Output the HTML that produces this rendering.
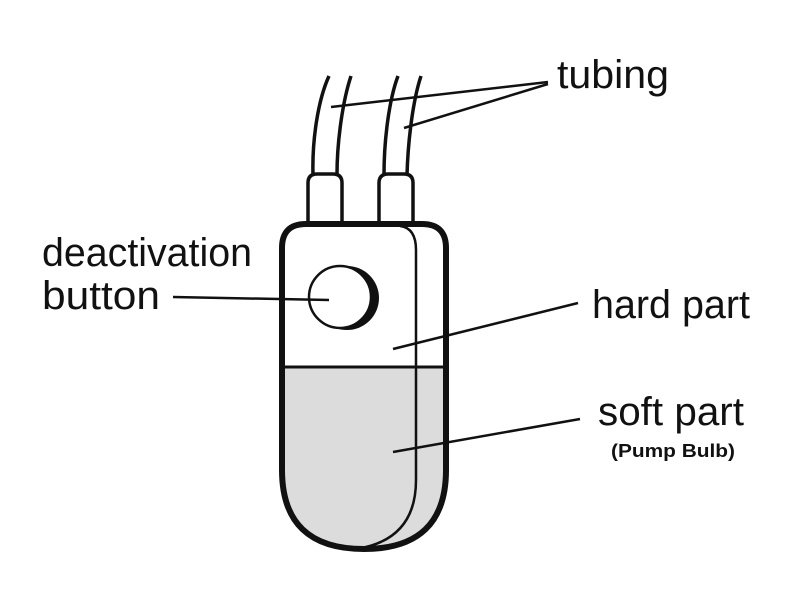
<!DOCTYPE html>
<html><head><meta charset="utf-8"><style>html,body{margin:0;padding:0;background:#fff}svg{display:block}</style></head>
<body>
<svg width="800" height="611" viewBox="0 0 800 611" xmlns="http://www.w3.org/2000/svg">
<rect width="800" height="611" fill="#fff"/>
<g fill="none" stroke="#111" stroke-width="3.5">
<path d="M313,175 C312,140 318,100 329,76"/>
<path d="M337,175 C337,140 343,100 351,76"/>
<path d="M384,175 C384,140 389,100 398,76"/>
<path d="M407,175 C408,140 413,100 421,76"/>
</g>
<g fill="#fff" stroke="#111" stroke-width="3.5">
<path d="M308,224 L308,183 Q308,174 317,174 L333,174 Q342,174 342,183 L342,224"/>
<path d="M379,224 L379,183 Q379,174 388,174 L404,174 Q413,174 413,183 L413,224"/>
</g>
<defs><clipPath id="c"><path d="M282,248 Q282,224 306,224 L422,224 Q446,224 446,248 L446,470 Q446,549 364,549 Q282,549 282,470 Z"/></clipPath></defs>
<path d="M282,248 Q282,224 306,224 L422,224 Q446,224 446,248 L446,470 Q446,549 364,549 Q282,549 282,470 Z" fill="#fff"/>
<rect x="270" y="367" width="190" height="200" fill="#dcdcdc" clip-path="url(#c)"/>
<line x1="282" y1="367" x2="446" y2="367" stroke="#111" stroke-width="3"/>
<path d="M400,226 Q416,228 416,250 L416,480 Q416,540 356,549" fill="none" stroke="#111" stroke-width="2.5"/>
<path d="M282,248 Q282,224 306,224 L422,224 Q446,224 446,248 L446,470 Q446,549 364,549 Q282,549 282,470 Z" fill="none" stroke="#111" stroke-width="6"/>
<circle cx="347" cy="298" r="32" fill="#111"/>
<circle cx="340" cy="297" r="31" fill="#fff" stroke="#111" stroke-width="2.5"/>
<g stroke="#111" stroke-width="2.5" fill="none">
<line x1="548" y1="82" x2="331" y2="107"/>
<line x1="548" y1="84" x2="404" y2="128"/>
<line x1="173" y1="297" x2="329" y2="300"/>
<line x1="578" y1="303" x2="393" y2="349"/>
<line x1="580" y1="419" x2="393" y2="452"/>
</g>
<g font-family="Liberation Sans, sans-serif" fill="#111" font-size="40">
<text x="557" y="88" textLength="112" lengthAdjust="spacingAndGlyphs">tubing</text>
<text x="42" y="266" textLength="210" lengthAdjust="spacingAndGlyphs">deactivation</text>
<text x="42" y="309" textLength="118" lengthAdjust="spacingAndGlyphs">button</text>
<text x="592" y="318" textLength="158" lengthAdjust="spacingAndGlyphs">hard part</text>
<text x="598" y="425" textLength="146" lengthAdjust="spacingAndGlyphs">soft part</text>
<text x="611" y="457" font-size="18" font-weight="bold" textLength="124" lengthAdjust="spacingAndGlyphs">(Pump Bulb)</text>
</g>
</svg>
</body></html>
